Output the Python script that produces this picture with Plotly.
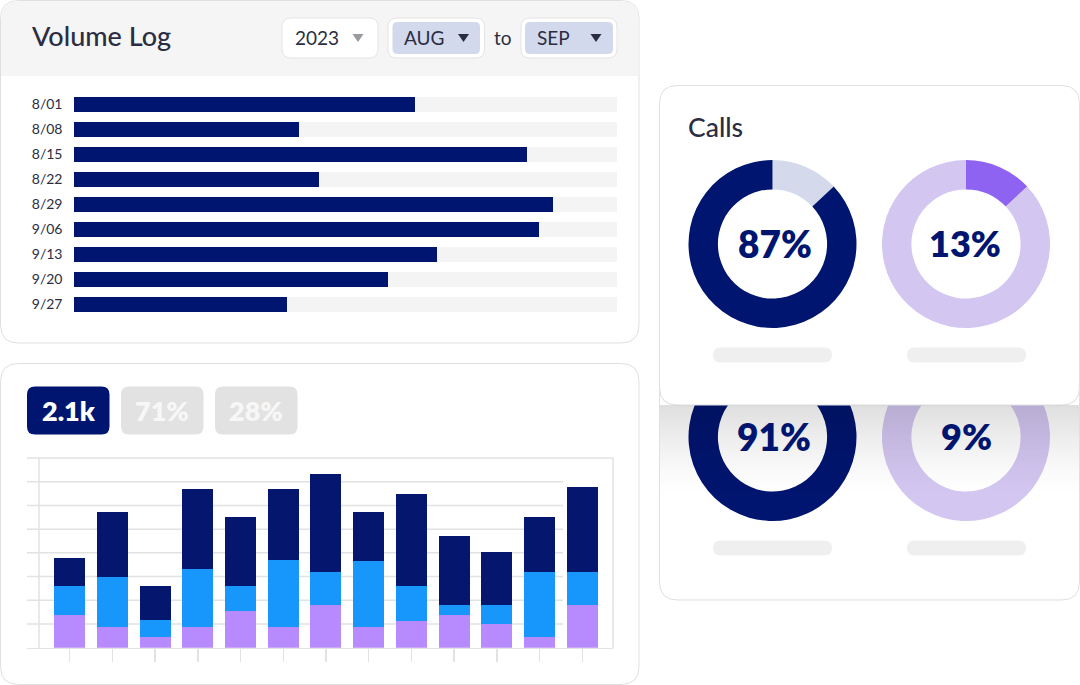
import plotly.graph_objects as go

W, H = 1080, 685
FONT = "Lato"
NAVY = "#00156F"
INK = "#2B2D42"
LINE = "#E2E2E2"

# ---------- data ----------
week_labels = ["8/01", "8/08", "8/15", "8/22", "8/29", "9/06", "9/13", "9/20", "9/27"]
week_volume = [62.9, 41.4, 83.5, 45.2, 88.2, 85.7, 66.9, 57.9, 39.3]
bar_index = list(range(13))
stack_purple = [1.38, 0.89, 0.45, 0.89, 1.56, 0.89, 1.79, 0.89, 1.14, 1.37, 1.00, 0.45, 1.79]
stack_blue = [1.22, 2.11, 0.72, 2.42, 1.04, 2.80, 1.39, 2.78, 1.46, 0.41, 0.81, 2.73, 1.39]
stack_navy = [1.17, 2.72, 1.43, 3.39, 2.91, 3.01, 4.16, 2.04, 3.89, 2.93, 2.24, 2.32, 3.60]
badge_labels = ["2.1k", "71%", "28%"]
donut_front = [87, 13]
donut_back = [91, 9]
dropdown_labels = ["2023", "AUG", "SEP"]


# ---------- pixel helpers ----------
def px(x):
    return x / W


def py(y):
    return 1 - y / H


def P(x, y):
    return f"{px(x):.6f},{py(y):.6f}"


def rrect(x0, y0, x1, y1, r):
    return (f"M{P(x0 + r, y0)} L{P(x1 - r, y0)} Q{P(x1, y0)} {P(x1, y0 + r)} "
            f"L{P(x1, y1 - r)} Q{P(x1, y1)} {P(x1 - r, y1)} L{P(x0 + r, y1)} "
            f"Q{P(x0, y1)} {P(x0, y1 - r)} L{P(x0, y0 + r)} Q{P(x0, y0)} {P(x0 + r, y0)} Z")


shapes = []


def add_path(path, fill="rgba(0,0,0,0)", line=None, width=1, layer="below"):
    shapes.append(dict(type="path", xref="paper", yref="paper", path=path, fillcolor=fill,
                       line=dict(color=line or "rgba(0,0,0,0)", width=width if line else 0),
                       layer=layer))


def add_rrect(x0, y0, x1, y1, r, fill="rgba(0,0,0,0)", line=None, width=1, layer="below"):
    add_path(rrect(x0, y0, x1, y1, r), fill, line, width, layer)


def add_tri(cx, cy, w, h, color):
    add_path(f"M{P(cx - w / 2, cy - h / 2)} L{P(cx + w / 2, cy - h / 2)} L{P(cx, cy + h / 2)} Z", color)


def add_line(x0, y0, x1, y1, color=LINE, width=1.5, layer="below"):
    shapes.append(dict(type="line", xref="paper", yref="paper", x0=px(x0), x1=px(x1), y0=py(y0), y1=py(y1),
                       line=dict(color=color, width=width), layer=layer))


annotations = []


def text(x, y, s, size, color=INK, weight=400, anchor="center"):
    annotations.append(dict(xref="paper", yref="paper", x=px(x), y=py(y), text=s, showarrow=False,
                            xanchor=anchor, yanchor="middle", align="left",
                            font=dict(family=FONT, size=size, color=color, weight=weight)))


# ---------- cards ----------
add_rrect(0.5, 0.5, 639, 343, 18, "#FFFFFF", "#DFDFDF")
add_path(f"M{P(1, 76)} L{P(1, 18)} Q{P(1, 1)} {P(18, 1)} L{P(621, 1)} Q{P(638.5, 1)} {P(638.5, 18)} L{P(638.5, 76)} Z",
         "#F5F5F5")
add_rrect(0.5, 363.5, 639, 684.5, 18, "#FFFFFF", "#DFDFDF")
add_rrect(659.5, 300, 1079.5, 600, 18, "#FFFFFF", "#DFDFDF")
add_rrect(659.5, 85.5, 1079.5, 405, 18, "#FFFFFF", "#DFDFDF")

# header controls
add_rrect(282, 18, 378, 58, 9, "#FFFFFF", "#E4E4E4")
add_rrect(388, 18, 484.5, 58, 9, "#FFFFFF", "#E4E4E4")
add_rrect(392.5, 22, 480, 54, 5, "#D3D9EC")
add_rrect(521, 18, 617, 58, 9, "#FFFFFF", "#E4E4E4")
add_rrect(525, 22, 613, 54, 5, "#D3D9EC")
add_tri(358, 38, 11, 8, "#9A9A9E")
add_tri(463.5, 38, 11, 8, INK)
add_tri(596, 38, 11, 8, INK)
text(317, 37, dropdown_labels[0], 19)
text(424, 37, dropdown_labels[1], 19)
text(503, 38, "to", 19)
text(553.5, 37, dropdown_labels[2], 19)
text(29.5, 36, "Volume Log", 27, weight=500, anchor="left")
text(686, 127, "Calls", 26.5, weight=500, anchor="left")

# badges
add_rrect(27, 386.5, 109.5, 434.5, 8, NAVY)
add_rrect(121, 386.5, 203.5, 434.5, 8, "#E2E2E2")
add_rrect(215, 386.5, 297.5, 434.5, 8, "#E2E2E2")
text(68.5, 410, badge_labels[0], 27, "#FFFFFF", 800)
text(162, 410, badge_labels[1], 27, "#F7F7F7", 800)
text(256, 410, badge_labels[2], 27, "#F7F7F7", 800)

# stacked chart frame (inner gridlines stop short of the right edge)
for i in range(1, 8):
    shapes.append(dict(type="line", xref="paper", yref="y2", x0=px(27), x1=px(563), y0=i, y1=i,
                       line=dict(color=LINE, width=1.5), layer="below"))
add_line(27, 458, 613, 458)
add_line(39, 458, 39, 648)
add_line(613, 458, 613, 648)

# shadow cast by the front card on the back card
STEP = 3
for y in range(405, 495, STEP):
    t = (y - 405) / 90
    a = 0.125 * (1 - t) ** 1.35
    shapes.append(dict(type="rect", xref="paper", yref="paper", x0=px(660), x1=px(1079), y0=py(y), y1=py(y + STEP),
                       fillcolor=f"rgba(0,0,0,{a:.4f})", line=dict(width=0), layer="above"))

# lower part of the front card, over the back donuts
add_path(f"M{P(659.5, 335)} L{P(659.5, 387)} Q{P(659.5, 405)} {P(677.5, 405)} L{P(1061.5, 405)} "
         f"Q{P(1079.5, 405)} {P(1079.5, 387)} L{P(1079.5, 335)} Z", "#FFFFFF", layer="above")
add_path(f"M{P(659.5, 335)} L{P(659.5, 387)} Q{P(659.5, 405)} {P(677.5, 405)} L{P(1061.5, 405)} "
         f"Q{P(1079.5, 405)} {P(1079.5, 387)} L{P(1079.5, 335)}", "rgba(0,0,0,0)", "#DFDFDF", layer="above")

# skeleton pills
for x0 in (713, 907):
    add_rrect(x0, 347.5, x0 + 119, 362.5, 7.5, "#EFEFEF", layer="above")
    add_rrect(x0, 540.5, x0 + 119, 555.5, 7.5, "#EFEFEF", layer="below")

fig = go.Figure()

# ---------- horizontal bars ----------
fig.add_bar(y=week_labels, x=week_volume, orientation="h", marker=dict(color=NAVY, line_width=0),
            xaxis="x", yaxis="y", hoverinfo="skip")
fig.add_bar(y=week_labels, x=[100 - v for v in week_volume], orientation="h",
            marker=dict(color="#F4F4F4", line_width=0), xaxis="x", yaxis="y", hoverinfo="skip")

# ---------- stacked bars ----------
for vals, col in ((stack_purple, "#B688FD"), (stack_blue, "#1394FC"), (stack_navy, "#00126C")):
    fig.add_bar(x=bar_index, y=vals, marker=dict(color=col, line_width=0, opacity=0.985),
                xaxis="x2", yaxis="y2", hoverinfo="skip", width=0.726)


# ---------- donuts ----------
def donut(cx, cy, r, values, colors, hole=0.65):
    fig.add_pie(values=values, marker=dict(colors=colors, line=dict(width=0)), hole=hole, sort=False,
                direction="clockwise", rotation=0, textinfo="none", hoverinfo="skip", showlegend=False,
                domain=dict(x=[px(cx - r), px(cx + r)], y=[py(cy + r), py(cy - r)]))


donut(772.5, 244, 84, [donut_front[1], donut_front[0]], ["#D4DAEC", NAVY])
donut(966, 244, 84, [donut_front[1], donut_front[0]], ["#8F63F2", "#D3C6F1"])
donut(772.5, 437, 84, [donut_back[1], donut_back[0]], ["#D4DAEC", NAVY])
donut(966, 437, 84, [donut_back[1], donut_back[0]], ["#8F63F2", "#D3C6F1"])

text(774.5, 243, f"{donut_front[0]}%", 37, NAVY, 800)
text(965, 243, f"{donut_front[1]}%", 36, NAVY, 800)
text(774, 436, f"{donut_back[0]}%", 37, NAVY, 800)
text(966, 436, f"{donut_back[1]}%", 36, NAVY, 800)

fig.update_layout(
    width=W, height=H, margin=dict(l=0, r=0, t=0, b=0, pad=0, autoexpand=False),
    paper_bgcolor="#FFFFFF", plot_bgcolor="rgba(0,0,0,0)", showlegend=False,
    barmode="stack", bargap=0.4, shapes=shapes, annotations=annotations,
    xaxis=dict(domain=[px(73.5), px(617)], range=[0, 100], visible=False, anchor="y"),
    yaxis=dict(domain=[py(316.6), py(91.8)], type="category", categoryorder="array", categoryarray=week_labels,
               autorange="reversed", showgrid=False, zeroline=False, showline=False, ticks="",
               ticklabelstandoff=10, tickfont=dict(family=FONT, size=14, color=INK), anchor="x"),
    xaxis2=dict(domain=[px(27), px(613)], range=[-1.0, 12.72], tickmode="array", tickvals=bar_index,
                showticklabels=False, ticks="outside", ticklen=13, tickwidth=1.5, tickcolor=LINE,
                showgrid=False, zeroline=False, showline=True, linecolor=LINE, linewidth=1.5, anchor="y2"),
    yaxis2=dict(domain=[py(647.7), py(458)], range=[0, 8], showticklabels=False, ticks="",
                showgrid=False, zeroline=False, showline=False, anchor="x2"),
)

fig.write_html("out.html", config=dict(displayModeBar=False, staticPlot=True),
               post_script="document.body.style.margin='0';document.body.style.overflow='hidden';")
